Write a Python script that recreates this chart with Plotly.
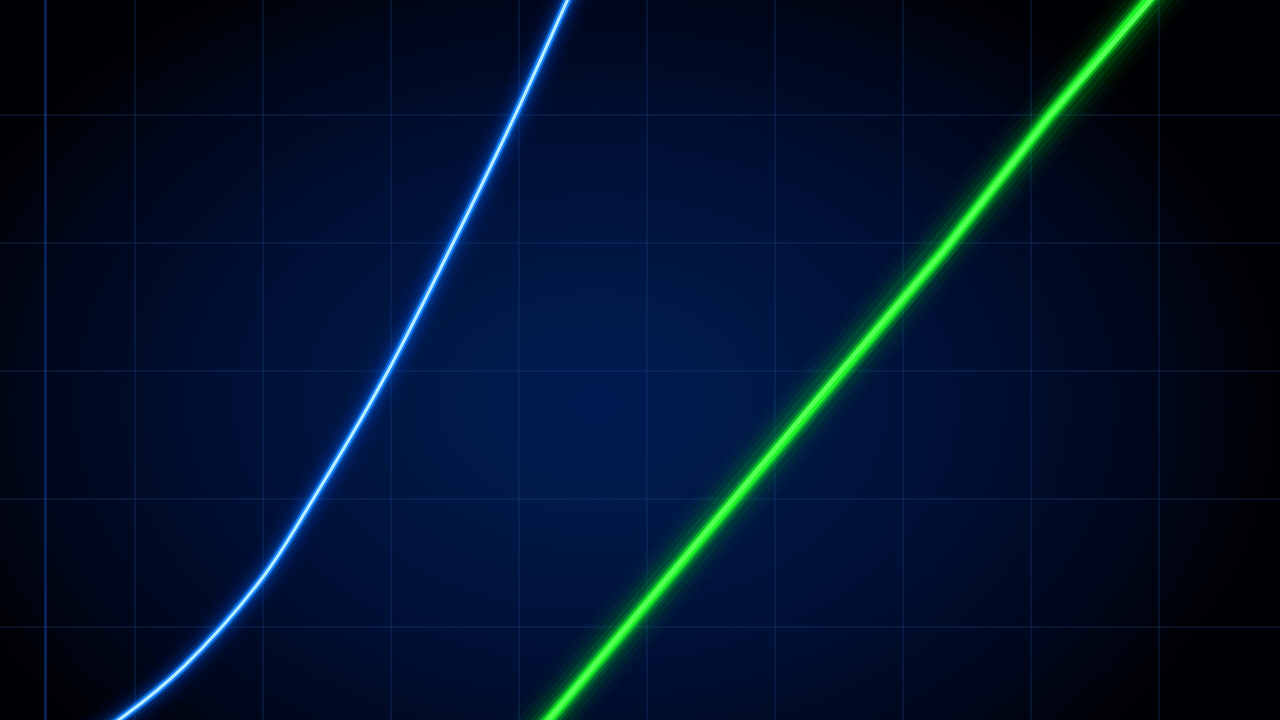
import plotly.graph_objects as go

# values (grid units, one unit = one grid cell)
blue_x = [0.45, 0.91, 1.38, 2.0, 2.38, 2.95, 3.46, 3.97, 4.38, 4.63]
blue_y = [0.0, 0.3, 0.69, 1.39, 1.98, 2.95, 3.95, 5.0, 5.9, 6.45]

green_x = [3.9, 4.84, 6.47, 7.31, 8.15, 8.98, 9.3]
green_y = [-0.12, 1.0, 2.95, 3.93, 5.0, 5.95, 6.35]

grid_vals = [1, 2, 3, 4, 5, 6, 7, 8, 9]
x_range = [-0.055, 9.945]
y_range = [0.273, 5.898]
axis_x = 0.3  # the brighter vertical line on the left

fig = go.Figure()

# glow: wide faint strokes first, bright core last
blue_layers = [(46, "rgba(0,80,255,0.04)"), (34, "rgba(0,90,255,0.06)"),
               (25, "rgba(0,100,255,0.09)"), (17, "rgba(0,110,255,0.16)"),
               (11, "rgba(10,120,255,0.35)"), (7, "rgba(25,135,255,0.95)"),
               (3, "rgb(185,238,255)")]
green_layers = [(62, "rgba(0,180,40,0.04)"), (48, "rgba(0,200,40,0.06)"),
                (37, "rgba(0,215,40,0.08)"), (27, "rgba(0,230,40,0.12)"),
                (19, "rgba(10,240,40,0.22)"), (13, "rgba(20,245,40,0.5)"),
                (8.5, "rgb(30,245,40)"), (4.5, "rgb(85,255,85)")]

for w, c in blue_layers:
    fig.add_trace(go.Scatter(x=blue_x, y=blue_y, mode="lines",
                             line=dict(color=c, width=w, shape="spline", smoothing=1.0),
                             hoverinfo="skip"))
for w, c in green_layers:
    fig.add_trace(go.Scatter(x=green_x, y=green_y, mode="lines",
                             line=dict(color=c, width=w),
                             hoverinfo="skip"))

# vignette: stacked translucent ellipses around the centre
shapes = []
n = 30
cx, cy = 4.6, 2.75
for i in range(n):
    f = 1 - i / n
    rx, ry = 5.3 * f, 3.8 * f
    shapes.append(dict(type="circle", xref="x", yref="y", layer="below",
                       x0=cx - rx, x1=cx + rx, y0=cy - ry, y1=cy + ry,
                       line=dict(width=0), fillcolor="rgba(0,50,135,0.04)"))
shapes.append(dict(type="line", xref="x", yref="paper", layer="below",
                   x0=axis_x, x1=axis_x, y0=0, y1=1,
                   line=dict(color="rgba(20,55,140,0.6)", width=3)))

fig.update_layout(
    width=1280, height=720,
    margin=dict(l=0, r=0, t=0, b=0),
    paper_bgcolor="#000104",
    plot_bgcolor="#000104",
    showlegend=False,
    shapes=shapes,
)
fig.update_xaxes(range=x_range, tickvals=grid_vals, showticklabels=False,
                 showgrid=True, gridcolor="rgba(35,80,150,0.2)", gridwidth=2,
                 zeroline=False, showline=False)
fig.update_yaxes(range=y_range, tickvals=grid_vals, showticklabels=False,
                 showgrid=True, gridcolor="rgba(35,80,150,0.2)", gridwidth=2,
                 zeroline=False, showline=False)

fig.write_html("out.html", config={"displayModeBar": False},
               post_script="document.body.style.margin='0';"
                           "document.body.style.background='#000104';")
